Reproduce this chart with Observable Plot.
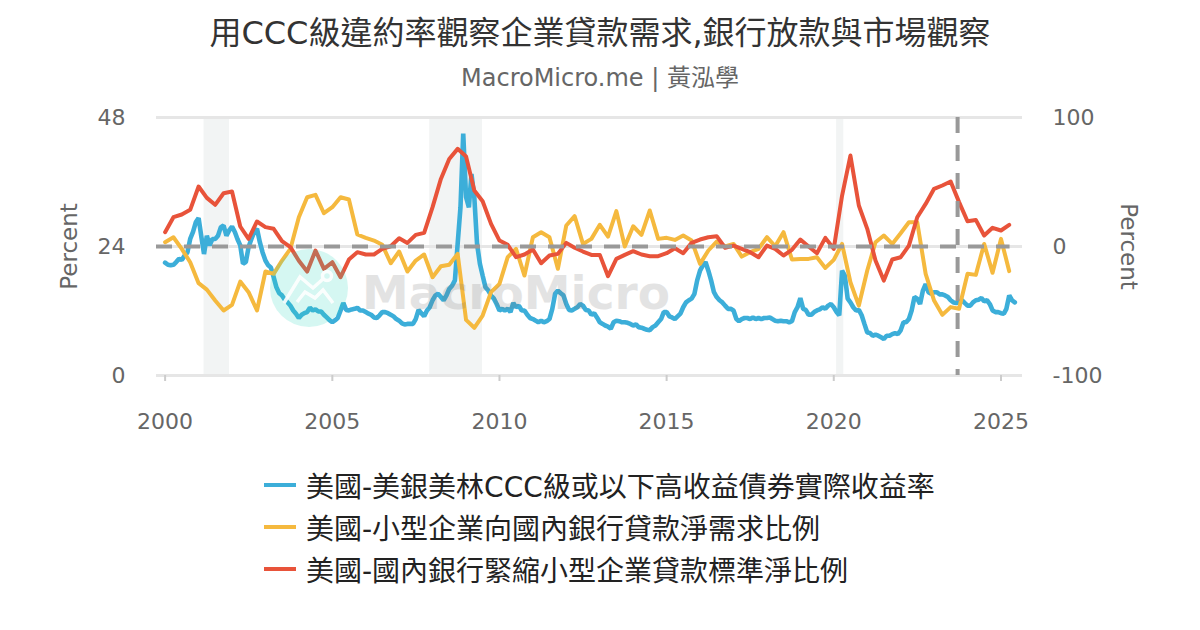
<!DOCTYPE html>
<html lang="zh-Hant">
<head>
<meta charset="utf-8">
<script src="https://cdn.jsdelivr.net/npm/d3@7"></script>
<script src="https://cdn.jsdelivr.net/npm/@observablehq/plot@0.6"></script>
<style>
  html, body { margin: 0; padding: 0; background: #fff; width: 1200px; height: 630px; overflow: hidden; }
  body { font-family: "DejaVu Sans", "Noto Sans CJK TC", sans-serif; position: relative; }
  #title { position: absolute; left: 0; width: 1200px; top: 12px; text-align: center; font-size: 32px; line-height: 42px; color: #333; }
  #subtitle { position: absolute; left: 0; width: 1200px; top: 62px; text-align: center; font-size: 24px; line-height: 32px; color: #666; }
  #chart { position: absolute; left: 0; top: 100px; }
  #mark { position: absolute; left: 0; top: 0; pointer-events: none; }
  #legend { position: absolute; left: 264px; top: 464px; }
  .item { display: flex; align-items: center; height: 42px; font-size: 28px; color: #222; }
  .swatch { width: 32px; height: 4px; margin-right: 10px; }
</style>
</head>
<body>
<div id="title">用CCC級違約率觀察企業貸款需求,銀行放款與市場觀察</div>
<div id="subtitle">MacroMicro.me | 黃泓學</div>
<div id="chart"></div>
<svg id="mark" width="1200" height="630" viewBox="0 0 1200 630" aria-hidden="true">
  <circle cx="309" cy="288" r="39" fill="#2dd8c0" opacity="0.2"></circle>
  <g fill="none" stroke="#fff" stroke-width="3.5" stroke-linejoin="miter" opacity="0.9">
    <polyline points="284,303 300,277 313,288 323,279"></polyline>
    <circle cx="327" cy="276" r="4.5"></circle>
    <polyline points="297,302 305,292 315,298 323,290 333,303"></polyline>
  </g>
  <text x="362" y="309" font-family="DejaVu Sans" font-weight="bold" font-size="47" fill="#777" opacity="0.2">MacroMicro</text>
</svg>
<div id="legend"></div>
<script>
// Monthly, from Jan 2000 (percent, left axis)
const yieldCCC = [
21.0,20.6,20.5,20.6,21.1,21.7,21.5,22.3,22.9,25.4,26.7,28.5,
29.3,25.7,22.6,26.0,24.2,25.4,25.4,26.0,27.6,27.9,26.0,27.0,
27.7,26.7,25.4,24.2,20.8,21.1,23.9,25.4,26.7,27.3,24.8,22.9,
21.4,20.5,20.1,18.3,16.4,15.3,14.9,14.1,13.6,13.0,12.1,11.5,
10.7,11.3,11.6,11.8,12.6,12.1,12.3,11.9,11.9,11.3,10.8,10.3,
9.9,10.3,10.7,12.1,13.5,12.2,12.1,12.3,12.4,12.6,12.1,12.1,
11.8,11.5,11.3,10.8,10.7,11.2,11.8,11.8,11.6,11.3,11.0,10.5,
10.2,9.7,9.5,9.6,9.6,9.6,10.5,12.2,11.6,11.0,12.1,12.7,
14.0,14.9,15.2,14.6,14.0,14.9,16.1,16.7,17.7,24.5,31.3,45.0,
33.2,31.3,37.5,33.2,24.5,20.8,18.6,16.4,15.8,14.9,14.3,13.3,
12.1,12.4,12.1,12.4,11.8,13.5,12.7,13.0,12.1,12.1,11.3,10.7,
10.5,10.2,9.9,10.2,9.9,10.1,10.5,12.4,15.2,15.8,15.3,14.9,
13.3,12.2,12.1,12.4,12.7,13.3,13.0,12.2,12.1,11.3,11.6,10.8,
9.9,9.6,9.3,9.1,8.7,9.9,10.2,10.1,9.9,9.9,9.8,9.6,
9.3,9.5,9.0,8.9,8.7,8.5,8.4,9.0,9.3,9.9,10.5,11.8,
11.8,11.0,10.8,10.5,11.0,11.5,12.7,13.6,14.0,14.3,15.2,17.7,
19.5,20.5,21.1,19.5,17.7,15.5,14.6,14.0,13.6,13.0,12.4,12.4,
12.1,10.5,10.1,10.5,10.7,10.7,10.5,10.8,10.5,10.7,10.5,10.7,
10.7,10.8,10.5,10.2,10.1,10.2,10.1,10.1,9.9,10.1,11.8,12.7,
14.4,12.4,12.2,11.3,11.3,11.8,12.1,12.3,12.7,12.4,13.0,13.3,
12.7,11.8,11.2,19.5,18.6,14.3,13.6,12.7,12.1,12.2,11.2,9.6,
8.0,7.9,7.4,7.6,7.4,7.1,6.8,7.4,7.4,7.7,7.9,7.7,
8.4,9.9,9.9,10.5,12.1,14.6,14.3,13.3,15.8,17.0,15.5,15.2,
15.5,15.5,15.1,15.1,14.9,14.6,14.0,13.6,13.5,13.6,14.0,13.5,
13.0,13.0,13.6,14.0,14.1,14.4,13.8,14.0,13.3,12.1,11.8,11.8,
11.6,11.5,12.4,14.9,14.0,13.6
];
// Quarterly, from Q1 2000 (percent, right axis)
const smallFirmDemand = [
3.3,7.2,-1.8,-12.2,-28.4,-33.4,-41.9,-49.6,-45.2,-27.2,-35.4,-49.6,
-19.4,-21.2,-10.9,-1.8,22.7,38.2,40.0,25.8,30.5,38.2,36.4,9.3,
6.7,4.6,1.3,-13.0,-3.9,-19.4,-10.9,-6.2,-23.8,-15.3,-14.2,-5.7,
-56.9,-63.0,-53.5,-35.4,-29.0,-8.3,-1.8,-22.5,7.2,11.1,7.2,-17.3,
16.3,23.5,2.0,5.9,16.8,7.7,27.4,0.0,15.7,9.0,27.9,5.9,
6.7,5.1,8.5,4.6,-13.5,-3.1,3.8,0.0,2.0,-7.8,-4.4,-1.8,
7.2,0.2,11.1,-10.1,-9.6,-9.6,-8.3,-16.6,-10.4,2.0,-27.7,-45.8,
-18.6,3.3,8.5,2.0,10.3,18.8,18.8,-21.2,-41.9,-53.0,-47.0,-48.3,
-21.2,-22.0,2.0,-20.4,5.9,-19.1
];
const smallFirmTightening = [
11.1,22.7,24.8,28.4,46.5,37.7,32.3,41.3,42.6,15.5,5.9,19.4,
15.0,13.7,4.1,-0.5,-11.0,-19.4,-3.1,-17.3,-12.2,-23.8,-10.1,-4.4,
-6.2,-6.2,-1.8,0.2,6.4,2.8,9.0,10.6,30.5,52.4,67.9,75.7,
69.8,43.4,35.1,17.5,4.6,1.3,-8.3,-6.2,-2.3,-13.0,-7.0,-5.7,
2.8,-1.0,-3.9,-6.5,-6.5,-23.0,-9.6,-6.5,-3.6,-6.2,-7.5,-7.5,
-5.2,-1.3,-5.2,2.8,5.4,7.2,8.0,-1.0,0.7,-1.8,-4.4,-8.3,
0.7,-1.8,-7.0,-2.6,5.4,0.0,-5.2,6.7,-1.8,39.5,70.5,31.8,
13.7,-10.9,-26.4,-10.1,-8.3,0.7,22.7,33.0,44.7,47.3,50.4,34.4,
19.6,20.6,8.5,14.5,12.4,16.8
];
const recessionStart = ["2001-03-01", "2007-12-01", "2020-02-01"];
const recessionEnd = ["2001-12-05", "2009-06-30", "2020-04-20"];
const xTickYears = [2000, 2005, 2010, 2015, 2020, 2025];
const leftTicks = [0, 24, 48];
const seriesNames = ["美國-美銀美林CCC級或以下高收益債券實際收益率", "美國-小型企業向國內銀行貸款淨需求比例", "美國-國內銀行緊縮小型企業貸款標準淨比例"];
const seriesColors = ["#3caed9", "#f5b93e", "#e8533a"];

// The two right-axis series share the plot's y scale: -100..100 maps onto 0..48.
const toLeft = v => (v + 100) / 200 * 48;
const toRight = v => v / 48 * 200 - 100;
const monthly = yieldCCC.map((v, i) => ({date: new Date(Date.UTC(2000, i, 1)), v}));
const demand = smallFirmDemand.map((v, i) => ({date: new Date(Date.UTC(2000, 3 * i, 1)), v: toLeft(v)}));
const tight = smallFirmTightening.map((v, i) => ({date: new Date(Date.UTC(2000, 3 * i, 1)), v: toLeft(v)}));
const recessions = recessionStart.map((s, i) => ({a: new Date(s), b: new Date(recessionEnd[i])}));
const yearDates = xTickYears.map(y => new Date(Date.UTC(y, 0, 1)));
const xStart = new Date(Date.UTC(1999, 8, 29));
const xEnd = new Date(Date.UTC(2025, 7, 24));
const guideDate = new Date(Date.UTC(2023, 8, 15));
const guideEnd = new Date(Date.UTC(2025, 3, 10));
const tickFill = "#666";
const font = "22px";

const plot = Plot.plot({
  width: 1200,
  height: 340,
  marginTop: 17,
  marginBottom: 65,
  marginLeft: 156,
  marginRight: 178,
  style: {fontFamily: '"DejaVu Sans", "Noto Sans CJK TC", sans-serif', background: "transparent", overflow: "visible"},
  x: {type: "utc", domain: [xStart, xEnd]},
  y: {domain: [0, 48]},
  marks: [
    Plot.rectX(recessions, {x1: "a", x2: "b", fill: "#f2f4f4"}),
    Plot.ruleY(leftTicks, {stroke: "#e6e6e6", strokeWidth: 3}),
    Plot.axisX({ticks: yearDates, tickFormat: d3.utcFormat("%Y"), tickSize: 6, tickPadding: 32, stroke: "#ccc", strokeWidth: 2, fill: tickFill, fontSize: font, label: null}),
    Plot.axisY({ticks: leftTicks, tickSize: 0, tickPadding: 31, fill: tickFill, fontSize: font, label: null}),
    Plot.axisY({anchor: "right", ticks: leftTicks, tickFormat: v => String(toRight(v)), tickSize: 0, tickPadding: 30, textAnchor: "start", fill: tickFill, fontSize: font, label: null}),
    Plot.line(monthly, {x: "date", y: "v", stroke: seriesColors[0], strokeWidth: 4.6, strokeLinejoin: "miter"}),
    Plot.line(demand, {x: "date", y: "v", stroke: seriesColors[1], strokeWidth: 4}),
    Plot.line(tight, {x: "date", y: "v", stroke: seriesColors[2], strokeWidth: 4}),
    Plot.ruleY([24], {x1: xStart, x2: guideEnd, stroke: "#999", strokeWidth: 4, strokeDasharray: "16,12"}),
    Plot.ruleX([guideDate], {stroke: "#999", strokeWidth: 4, strokeDasharray: "16,12"}),
    Plot.text(["Percent"], {frameAnchor: "left", textAnchor: "middle", dx: -87, rotate: -90, fill: tickFill, fontSize: 23}),
    Plot.text(["Percent"], {frameAnchor: "right", textAnchor: "middle", dx: 106, rotate: 90, fill: tickFill, fontSize: 23})
  ]
});
document.getElementById("chart").appendChild(plot);

const legend = d3.select("#legend");
seriesNames.forEach((name, i) => {
  const item = legend.append("div").attr("class", "item");
  item.append("span").attr("class", "swatch").style("background", seriesColors[i]);
  item.append("span").text(name);
});
</script>
</body>
</html>
